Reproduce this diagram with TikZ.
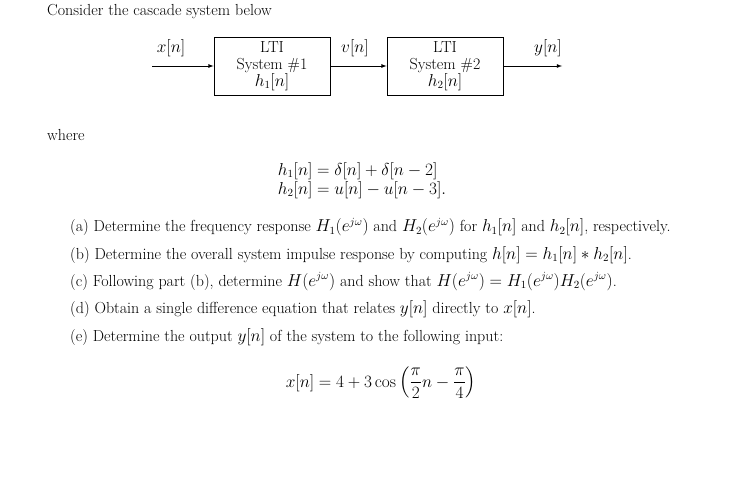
\documentclass[tikz,border=0pt]{standalone}
\usepackage{amsmath}
\begin{document}
\begin{tikzpicture}[x=1pt,y=-1pt,font=\fontsize{16}{19}\selectfont,
  blk/.style={draw,thick,minimum width=116pt,minimum height=58pt,align=center,inner sep=0pt,font=\fontsize{16}{17}\selectfont},
  txt/.style={anchor=base west,inner sep=0pt},
  sig/.style={->,>=latex,thick}]
\useasboundingbox (0,0) rectangle (752,481);
\node[txt] (t0) at (47,16) {Consider the cascade system below};
\node[blk] (b1) at (272,66) {LTI\\System \#1\\$h_1[n]$};
\node[blk] (b2) at (445,66) {LTI\\System \#2\\$h_2[n]$};
\coordinate (in) at (152,66);
\coordinate (out) at (562,66);
\draw[sig] (in) -- (b1.west);
\draw[sig] (b1.east) -- (b2.west);
\draw[sig] (b2.east) -- (out);
\node (lx) at (171,48) {$x[n]$};
\node (lv) at (355,48) {$v[n]$};
\node (ly) at (548,48) {$y[n]$};
\node[txt] (w) at (47,141) {where};
\node (eq) at (362,181) {$\begin{aligned} h_1[n]&=\delta[n]+\delta[n-2]\\[-3pt] h_2[n]&=u[n]-u[n-3].\end{aligned}$};
\node[txt] (a) at (70,232) {(a) Determine the frequency response $H_1(e^{j\omega})$ and $H_2(e^{j\omega})$ for $h_1[n]$ and $h_2[n]$, respectively.};
\node[txt] (b) at (70,259) {(b) Determine the overall system impulse response by computing $h[n]=h_1[n]*h_2[n]$.};
\node[txt] (c) at (70,286) {(c) Following part (b), determine $H(e^{j\omega})$ and show that $H(e^{j\omega})=H_1(e^{j\omega})H_2(e^{j\omega})$.};
\node[txt] (d) at (70,313) {(d) Obtain a single difference equation that relates $y[n]$ directly to $x[n]$.};
\node[txt] (e) at (70,341) {(e) Determine the output $y[n]$ of the system to the following input:};
\node (f) at (381,383) {$x[n]=4+3\cos\left(\dfrac{\pi}{2}n-\dfrac{\pi}{4}\right)$};
\end{tikzpicture}
\end{document}
